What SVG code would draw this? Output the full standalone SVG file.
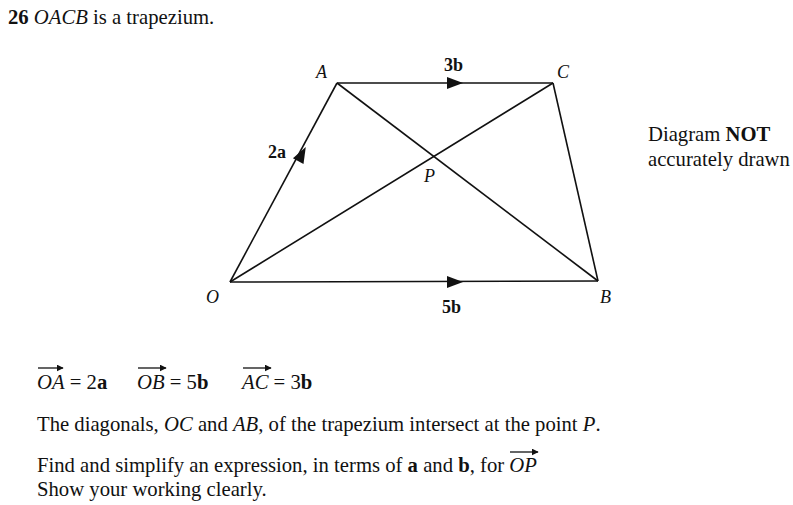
<svg xmlns="http://www.w3.org/2000/svg" width="793" height="505" viewBox="0 0 793 505">
<style>
text{font-family:"Liberation Serif","Times New Roman",serif;fill:#111;font-size:20.7px}
.i{font-style:italic}
.b{font-weight:bold}
.lbl{font-size:18px}
.ln{stroke:#111;stroke-width:1.6;fill:none}
.ah{fill:#111}
.va{stroke:#111;stroke-width:1.3;fill:none;marker-end:url(#vh)}
</style>
<defs>
<marker id="vh" viewBox="0 0 10 10" refX="9" refY="5" markerWidth="7" markerHeight="7" markerUnits="userSpaceOnUse" orient="auto">
<path d="M0,0 L10,5 L0,10 Z" fill="#111"/>
</marker>
<polygon id="tri" points="8,0 -8,-6 -8,6"/>
</defs>
<rect width="793" height="505" fill="#fff"/>
<text x="8" y="24"><tspan class="b">26</tspan>  <tspan class="i">OACB</tspan> is a trapezium.</text>
<g id="connectors">
<line class="ln" x1="230" y1="282" x2="337" y2="83"/>
<line class="ln" x1="337" y1="83" x2="553" y2="83"/>
<line class="ln" x1="553" y1="83" x2="598" y2="281"/>
<line class="ln" x1="230" y1="282" x2="598" y2="281"/>
<line class="ln" x1="230" y1="282" x2="553" y2="83"/>
<line class="ln" x1="337" y1="83" x2="598" y2="281"/>
<use href="#tri" class="ah" transform="translate(455,83)"/>
<use href="#tri" class="ah" transform="translate(455,282)"/>
<use href="#tri" class="ah" transform="translate(302,154) rotate(-61.7)"/>
</g>
<g id="node-A"><text class="i lbl" x="316" y="78">A</text></g>
<g id="node-C"><text class="i lbl" x="557" y="78">C</text></g>
<g id="node-O"><text class="i lbl" x="206" y="303">O</text></g>
<g id="node-B"><text class="i lbl" x="600" y="303">B</text></g>
<g id="node-P"><text class="i lbl" x="424" y="182">P</text></g>
<g id="label-3b"><text class="b lbl" x="444" y="71">3b</text></g>
<g id="label-5b"><text class="b lbl" x="442" y="313">5b</text></g>
<g id="label-2a"><text class="b lbl" x="268" y="158">2a</text></g>
<g id="note">
<text x="648" y="141">Diagram <tspan class="b">NOT</tspan></text>
<text x="648" y="166">accurately drawn</text>
</g>
<g id="vectors">
<text x="37" y="389"><tspan class="i">OA</tspan> = 2<tspan class="b">a</tspan></text>
<path class="va" d="M38,368 H63"/>
<text x="137" y="389"><tspan class="i">OB</tspan> = 5<tspan class="b">b</tspan></text>
<path class="va" d="M138,368 H166"/>
<text x="242" y="389"><tspan class="i">AC</tspan> = 3<tspan class="b">b</tspan></text>
<path class="va" d="M243,368 H271"/>
</g>
<text x="37" y="431">The diagonals, <tspan class="i">OC</tspan> and <tspan class="i">AB</tspan>, of the trapezium intersect at the point <tspan class="i">P</tspan>.</text>
<text x="37" y="472">Find and simplify an expression, in terms of <tspan class="b">a</tspan> and <tspan class="b">b</tspan>, for <tspan class="i">OP</tspan></text>
<path class="va" d="M510,452 H538"/>
<text x="37" y="496">Show your working clearly.</text>
</svg>
